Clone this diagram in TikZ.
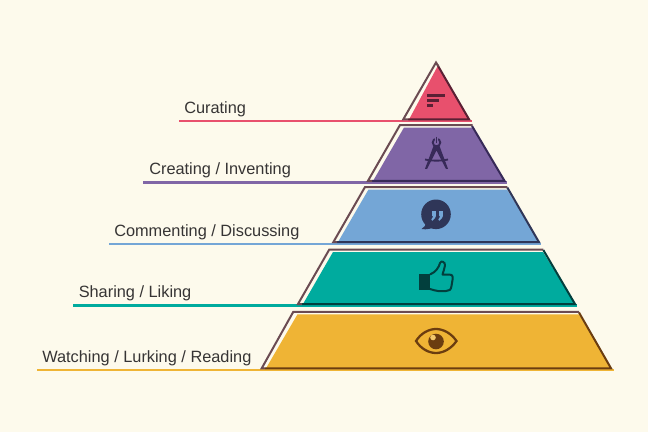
\documentclass[tikz,border=0pt]{standalone}
\usepackage{fontspec}
\setmainfont{Liberation Sans}
\definecolor{bg}{HTML}{FDFAEC}
\definecolor{outl}{HTML}{6B4B52}
\definecolor{txt}{HTML}{363434}
\definecolor{cr}{HTML}{E8506D}\definecolor{dr}{HTML}{5A2034}
\definecolor{cp}{HTML}{8066A6}\definecolor{dp}{HTML}{372A58}
\definecolor{cb}{HTML}{74A6D6}\definecolor{db}{HTML}{2F3658}
\definecolor{ct}{HTML}{00AB9E}\definecolor{dt}{HTML}{023F3D}
\definecolor{cy}{HTML}{EFB435}\definecolor{dy}{HTML}{6B3D10}
\tikzset{
  lab/.style={font=\fontsize{12.25pt}{14pt}\selectfont,text=txt,inner sep=0pt,anchor=base west},
  lead/.style={line width=1.7pt},
  oline/.style={draw=outl,line width=1.5pt,line join=miter},
  edge/.style={line width=1.5pt,line join=miter},
}
\begin{document}
\begin{tikzpicture}[x=0.75pt,y=-0.75pt]
\useasboundingbox (0,0) rectangle (648,432);
\fill[bg] (0,0) rectangle (648,432);
% leaders
\coordinate (l1a) at (179,121);\coordinate (l1b) at (472,121);
\coordinate (l2a) at (143,182.5);\coordinate (l2b) at (507,182.5);
\coordinate (l3a) at (109,244);\coordinate (l3b) at (541,244);
\coordinate (l4a) at (73,305.5);\coordinate (l4b) at (577,305.5);
\coordinate (l5a) at (37,370);\coordinate (l5b) at (614,370);
\draw[lead,cr] (l1a)--(l1b);
\draw[lead,cp] (l2a)--(l2b);
\draw[lead,cb] (l3a)--(l3b);
\draw[lead,ct] (l4a)--(l4b);
\draw[lead,cy] (l5a)--(l5b);
% white gap under the outlines
\fill[bg] (403.3,120)--(436,62.5)--(440,66)--(409,120)--cycle;
% tier 1
\fill[cr] (438,65.5)--(470,119.5)--(409,119.5)--cycle;
\draw[edge,dr] (437.5,65)--(469,119.3)--(408,119.3);
\draw[oline] (408,119.3)--(403.3,119.3)--(436,62.5)--(438.5,66.5);
% tier 2
\fill[cp] (404,127.5)--(472,127.5)--(505,181)--(373,181)--cycle;
\draw[edge,dp] (472,126)--(504.5,180.8)--(372,180.8);
\draw[oline] (372,180.8)--(368,180.8)--(400,125)--(472.7,125);
% tier 3
\fill[cb] (368.5,189.5)--(507,189.5)--(539,242)--(338,242)--cycle;
\draw[edge,db] (507.3,187.5)--(539,242.2)--(337,242.2);
\draw[oline] (337,242.2)--(333.3,242.2)--(365,187)--(507.3,187);
% tier 4
\fill[ct] (333,252)--(543,252)--(575,304)--(303,304)--cycle;
\draw[edge,dt] (543.3,250)--(575,304)--(302,304);
\draw[oline] (302,304)--(298,304)--(329.3,249.5)--(543.3,249.5);
% tier 5
\fill[cy] (297.5,314.3)--(579,314.3)--(611,368.3)--(266,368.3)--cycle;
\draw[edge,dy] (579,312.5)--(611,368.3)--(265,368.3);
\draw[oline] (265,368.3)--(261.7,368.3)--(293.3,311.8)--(579,311.8);
% labels
\node[lab] (t1) at (184,113) {Curating};
\node[lab] (t2) at (149,174.5) {Creating / Inventing};
\node[lab] (t3) at (114,236) {Commenting / Discussing};
\node[lab] (t4) at (78.5,297.5) {Sharing / Liking};
\node[lab] (t5) at (42,362) {Watching / Lurking / Reading};
% icon: bars
\draw[dr,line width=1.6pt] (427,95.5)--(445,95.5) (427,100.5)--(439,100.5) (427,105.5)--(433,105.5);
% icon: compass
\draw[dp,line width=1.4pt] (436.5,142.5) circle (3.8);
\fill[cp] (434.6,137) rectangle (438.4,140.5);
\draw[dp,line width=1.3pt] (436.5,136.5)--(436.5,143);
\fill[dp] (433.5,146) -- (439.5,146) -- (448,168.8) -- (446,169) -- (436.5,150.5) -- (427,169) -- (425,168.8) -- cycle;
\draw[dp,line width=1.4pt] (425,159.5) .. controls (432,161) and (441,161) .. (448,159.5);
% icon: bubble
\fill[db] (436,214.3) circle (14.8);
\fill[db] (426,222) .. controls (426,225) and (424.5,227.5) .. (421.5,229) .. controls (427,230) and (432,228.5) .. (436,226) -- cycle;
\fill[cb] (431.6,210.7) rectangle (436,215.5);
\fill[cb] (438.6,210.7) rectangle (443,215.5);
\fill[cb] (436,214) .. controls (436,217.5) and (434.5,219.5) .. (432.3,220.8) -- (431.3,219.4) .. controls (432.6,218.4) and (433,217) .. (433,214.5) -- cycle;
\fill[cb] (443,214) .. controls (443,217.5) and (441.5,219.5) .. (439.3,220.8) -- (438.3,219.4) .. controls (439.6,218.4) and (440,217) .. (440,214.5) -- cycle;
% icon: thumb
\fill[dt] (419.3,274) rectangle (430,290);
\draw[dt,line width=1.5pt,line join=round] (430,274.5) .. controls (436,272) and (439,267) .. (440,263) .. controls (441,260) and (445.5,262) .. (445,265.5) .. controls (444.5,269) and (443,272) .. (442.5,274.5) -- (449,274.5) .. controls (453,274.5) and (453,277) .. (452.5,280) -- (451.5,286) .. controls (451,290) and (449,291) .. (446,291) -- (438,291) .. controls (435,291) and (433,289.5) .. (430,289);
% icon: eye
\draw[dy,line width=1.7pt] (416,341) .. controls (421,333) and (429,329) .. (436,329) .. controls (443,329) and (451,333) .. (456.5,341) .. controls (451,349) and (443,353) .. (436,353) .. controls (429,353) and (421,349) .. (416,341) -- cycle;
\fill[dy] (436,341.5) circle (7.8);
\fill[cy!70!bg] (433,337.5) circle (2.8);
\end{tikzpicture}
\end{document}
